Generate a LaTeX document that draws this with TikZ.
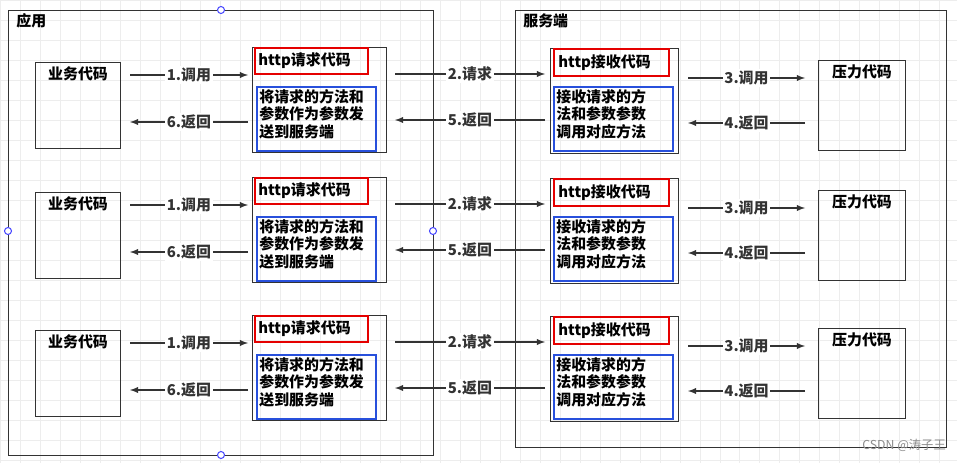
\documentclass[tikz,border=0pt]{standalone}
\usepackage{fontspec}
\setmainfont{Liberation Sans}
\newfontfamily\cjk{Noto Sans CJK SC}
\usetikzlibrary{arrows,calc}

\definecolor{boxblue}{RGB}{40,80,220}
\tikzset{
  box/.style={draw=black!80, line width=0.6pt, inner sep=0pt},
  red box/.style={draw=red!90!black, line width=1.2pt, inner sep=0pt},
  blue box/.style={draw=boxblue, line width=1.2pt, inner sep=0pt},
  txt/.style={font=\cjk\bfseries\fontsize{8.5}{10}\selectfont, inner sep=0pt},
  call/.style={-latex, line width=0.6pt, black!80},
  lbl/.style={txt, fill=white, inner sep=1pt}
}

\begin{document}
\begin{tikzpicture}[x=0.02cm, y=-0.02cm]
  \useasboundingbox (0,0) rectangle (957,463);
  % grid
  \draw[black!7, step=0.4cm] (0,0) grid (957,463);
  % outer frames
  \node[box, minimum width=8.5cm, minimum height=8.9cm, anchor=north west] (App) at (8,10) {};
  \node[box, minimum width=8.62cm, minimum height=8.74cm, anchor=north west] (Srv) at (515,10) {};
  \node[txt, anchor=north west] at (16,13) {应用};
  \node[txt, anchor=north west] at (523,13) {服务端};
  \foreach \p in {(221,10),(8,231),(433,231),(221,455)}
    \draw[blue!70, fill=white, line width=0.6pt] \p circle (3.5);
  % three rows
  \foreach \d/\i in {0/1, 130/2, 268/3} {
    \node[box, minimum width=1.7cm, minimum height=1.72cm, anchor=north west] (Biz\i) at (35,62+\d) {};
    \node[txt, anchor=north] at ($(Biz\i.north)+(0,4)$) {业务代码};
    \node[box, minimum width=2.68cm, minimum height=2.1cm, anchor=north west] (Cli\i) at (252,47+\d) {};
    \node[red box, minimum width=2.26cm, minimum height=0.52cm, anchor=north west] (CliHead\i) at (254,47+\d) {};
    \node[txt, anchor=west] at ($(CliHead\i.west)+(4,0)$) {http请求代码};
    \node[blue box, minimum width=2.38cm, minimum height=1.28cm, anchor=north west] (CliBody\i) at (256,86+\d) {};
    \node[txt, align=left, anchor=north west] at ($(CliBody\i.north west)+(3,3)$) {将请求的方法和\\参数作为参数发\\送到服务端};
    \node[box, minimum width=2.56cm, minimum height=2.1cm, anchor=north west] (Rcv\i) at (550,48+\d) {};
    \node[red box, minimum width=2.3cm, minimum height=0.54cm, anchor=north west] (RcvHead\i) at (553,48+\d) {};
    \node[txt, anchor=west] at ($(RcvHead\i.west)+(5,0)$) {http接收代码};
    \node[blue box, minimum width=2.38cm, minimum height=1.28cm, anchor=north west] (RcvBody\i) at (553,86+\d) {};
    \node[txt, align=left, anchor=north west] at ($(RcvBody\i.north west)+(3,3)$) {接收请求的方\\法和参数参数\\调用对应方法};
    \node[box, minimum width=1.74cm, minimum height=1.8cm, anchor=north west] (Load\i) at (818,60+\d) {};
    \node[txt, anchor=north] at ($(Load\i.north)+(0,4)$) {压力代码};
    % connectors
    \coordinate (a\i) at (130,75+\d);  \coordinate (b\i) at (248,75+\d);
    \coordinate (c\i) at (395,74+\d);  \coordinate (e\i) at (545,74+\d);
    \coordinate (f\i) at (688,78+\d);  \coordinate (g\i) at (805,78+\d);
    \draw[call] (a\i) -- node[lbl] {1.调用} (b\i);
    \draw[call] (b\i |- 0,122+\d) coordinate (bb\i) -- node[lbl] {6.返回} (a\i |- bb\i);
    \draw[call] (c\i) -- node[lbl] {2.请求} (e\i);
    \draw[call] (e\i |- 0,120+\d) coordinate (ee\i) -- node[lbl] {5.返回} (c\i |- ee\i);
    \draw[call] (f\i) -- node[lbl] {3.调用} (g\i);
    \draw[call] (g\i |- 0,123+\d) coordinate (gg\i) -- node[lbl] {4.返回} (f\i |- gg\i);
  }
  \node[font=\cjk\fontsize{7}{8}\selectfont, text=black!45, anchor=south east] at (952,458) {CSDN @涛子王};
\end{tikzpicture}
\end{document}
